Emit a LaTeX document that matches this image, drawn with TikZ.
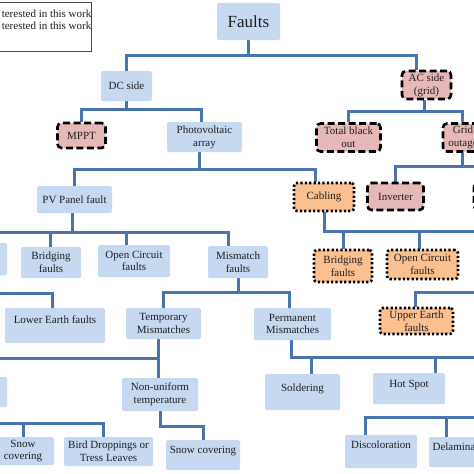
\documentclass[tikz,border=0pt]{standalone}
\usepackage{fontspec}
\setmainfont{Liberation Serif}
\usetikzlibrary{backgrounds}
\definecolor{bfill}{RGB}{198,217,241}
\definecolor{pfill}{RGB}{230,185,184}
\definecolor{ofill}{RGB}{250,192,144}
\definecolor{lnc}{RGB}{72,117,173}
\definecolor{txt}{RGB}{30,30,30}
\tikzset{
  base/.style={align=center, inner sep=1pt, text=txt, font=\fontsize{11}{12.8}\selectfont},
  bbox/.style={base, fill=bfill, rounded corners=1.5pt},
  pbox/.style={base, fill=pfill, draw=black, line width=2.6pt, dash pattern=on 7pt off 3.5pt, rounded corners=4pt},
  obox/.style={base, fill=ofill, draw=black, line width=2.6pt, dash pattern=on 2.2pt off 2.2pt, rounded corners=3pt},
  conn/.style={draw=lnc, line width=3pt},
  sz/.style 2 args={minimum width=#1pt, minimum height=#2pt},
  up/.style={text height=8pt, text depth=2*#1pt+0.8pt},
  legbox/.style={draw=black!70, line width=1.2pt, fill=white, inner sep=0pt},
  legtxt/.style={base, inner sep=0pt, anchor=east},
}
\begin{document}
\begin{tikzpicture}[x=1pt,y=-1pt]
\useasboundingbox (0,0) rectangle (474,474);
% legend
\node[legbox, minimum width=110pt, minimum height=49pt, anchor=north east] (legend) at (92,2) {};
\node[legtxt] (leg1) at (91.5,14) {terested in this work};
\node[legtxt] (leg2) at (91.5,26) {terested in this work};
% nodes
\node[bbox, sz={63}{37}, font=\fontsize{17}{19}\selectfont] (faults) at (248.5,21.5) {Faults};
\node[bbox, sz={51}{30}] (dc) at (126.5,86) {DC side};
\node[pbox, sz={49}{28}] (ac) at (426.5,85) {AC side\\(grid)};
\node[pbox, sz={64}{28}] (tbo) at (348.5,137.5) {Total black\\out};
\node[pbox, sz={40}{28}] (grid) at (463,137.5) {Grid\\outage};
\node[pbox, sz={48}{25}] (mppt) at (81.5,135.5) {MPPT};
\node[bbox, sz={75}{30}] (pva) at (204.5,137) {Photovoltaic\\array};
\node[bbox, sz={75}{27}] (pvp) at (74.5,199.5) {PV Panel fault};
\node[obox, sz={60}{28}] (cab) at (324,197) {Cabling};
\node[pbox, sz={56}{27}] (inv) at (395.5,196.5) {Inverter};
\node[pbox, sz={56}{27}] (gch) at (502,196.5) {};
\node[bbox, sz={60}{32}] (lc1) at (-23,259) {};
\node[bbox, sz={60}{31}] (br1) at (51,262.5) {Bridging\\faults};
\node[bbox, sz={72}{32}] (oc1) at (134,261) {Open Circuit\\faults};
\node[bbox, sz={60}{32}] (mis) at (238,262) {Mismatch\\faults};
\node[obox, sz={58}{32}] (br2) at (343,266) {Bridging\\faults};
\node[obox, sz={71}{29}] (oc2) at (422.5,264.5) {Open Circuit\\faults};
\node[obox, sz={73}{26}] (uef) at (416.5,321) {Upper Earth\\faults};
\node[bbox, sz={100}{35}, up=5.5] (lef) at (55,325.5) {Lower Earth faults};
\node[bbox, sz={75}{31}] (tmp) at (163.5,323.5) {Temporary\\Mismatches};
\node[bbox, sz={77}{32}] (prm) at (292.5,324) {Permanent\\Mismatches};
\node[bbox, sz={60}{30}] (lc2) at (-23,392) {};
\node[bbox, sz={76}{33}] (nut) at (160,394.5) {Non-uniform\\temperature};
\node[bbox, sz={74}{30}, up=5] (sn2) at (203,455) {Snow covering};
\node[bbox, sz={62}{28}] (sn1) at (23,451) {Snow\\covering};
\node[bbox, sz={89}{29}] (bird) at (108.5,451.5) {Bird Droppings or\\Tress Leaves};
\node[bbox, sz={75}{36}, up=4] (sol) at (302.5,392) {Soldering};
\node[bbox, sz={72}{31}, up=4.5] (hot) at (409,388.5) {Hot Spot};
\node[bbox, sz={72}{33}, up=6.5] (dis) at (381,451.5) {Discoloration};
\node[bbox, sz={67}{30}, up=5] (del) at (462.5,452) {Delamination};
% off-picture ends
\coordinate (cabr) at (500,249);
\coordinate (uep) at (500,292);
\coordinate (prmr) at (500,374);
\coordinate (hsp) at (500,417);
\begin{scope}[on background layer]
\fill[white] (0,0) rectangle (474,474);
\draw[conn] (faults.south) -- ++(0,15) -| (dc.north);
\draw[conn] (faults.south) -- ++(0,15) -| ([xshift=-10pt]ac.north);
\draw[conn] (dc.south) -- ++(0,8) -| (mppt.north);
\draw[conn] (dc.south) -- ++(0,8) -| ([xshift=-3.5pt]pva.north);
\draw[conn] ([xshift=-2pt]ac.south) -- ++(0,11) -| (tbo.north);
\draw[conn] ([xshift=-2pt]ac.south) -- ++(0,11) -| ([xshift=-1pt]grid.north);
\draw[conn] ([xshift=-5pt]pva.south) -- ++(0,17) -| (pvp.north);
\draw[conn] ([xshift=-5pt]pva.south) -- ++(0,17) -| ([xshift=-9pt]cab.north);
\draw[conn] ([xshift=-1pt]grid.south) -- ++(0,14) -| (inv.north);
\draw[conn] ([xshift=-1pt]grid.south) -- ++(0,14) -| (gch.north);
\draw[conn] ([xshift=-2pt]pvp.south) -- ++(0,19) -| (lc1.north);
\draw[conn] ([xshift=-2pt]pvp.south) -- ++(0,19) -| ([xshift=-1pt]br1.north);
\draw[conn] ([xshift=-2pt]pvp.south) -- ++(0,19) -| ([xshift=-8pt]oc1.north);
\draw[conn] ([xshift=-2pt]pvp.south) -- ++(0,19) -| ([xshift=-10pt]mis.north);
\draw[conn] (cab.south) -- ++(0,19) -| (br2.north);
\draw[conn] (cab.south) -- ++(0,19) -| ([xshift=-3.5pt]oc2.north);
\draw[conn] (cab.south) -- ++(0,19) -| (cabr);
\draw[conn] (lc1.south) -- ++(0,18) -| ([xshift=-3pt]lef.north);
\draw[conn] (uep) -| ([xshift=-1.5pt]uef.north);
\draw[conn] (mis.south) -- ++(0,14) -| (tmp.north);
\draw[conn] (mis.south) -- ++(0,14) -| ([xshift=-3.5pt]prm.north);
\draw[conn] ([xshift=-5.5pt]tmp.south) -- ([xshift=-2pt]nut.north);
\draw[conn] ([xshift=-5.5pt]tmp.south) -- ++(0,19) -| (lc2.north);
\draw[conn] (nut.south) -- ++(0,15) -| (sn2.north);
\draw[conn] (lc2.south) -- ++(0,16) -| (sn1.north);
\draw[conn] (lc2.south) -- ++(0,16) -| ([xshift=-5.5pt]bird.north);
\draw[conn] ([xshift=-1.5pt]prm.south) -- ++(0,17) -| ([xshift=8.5pt]sol.north);
\draw[conn] ([xshift=-1.5pt]prm.south) -- ++(0,17) -| ([xshift=26pt]hot.north);
\draw[conn] ([xshift=-1.5pt]prm.south) -- ++(0,17) -| (prmr);
\draw[conn] (hsp) -| ([xshift=-16pt]dis.north);
\draw[conn] (hsp) -| ([xshift=-16.5pt]del.north);
\end{scope}
\end{tikzpicture}
\end{document}
